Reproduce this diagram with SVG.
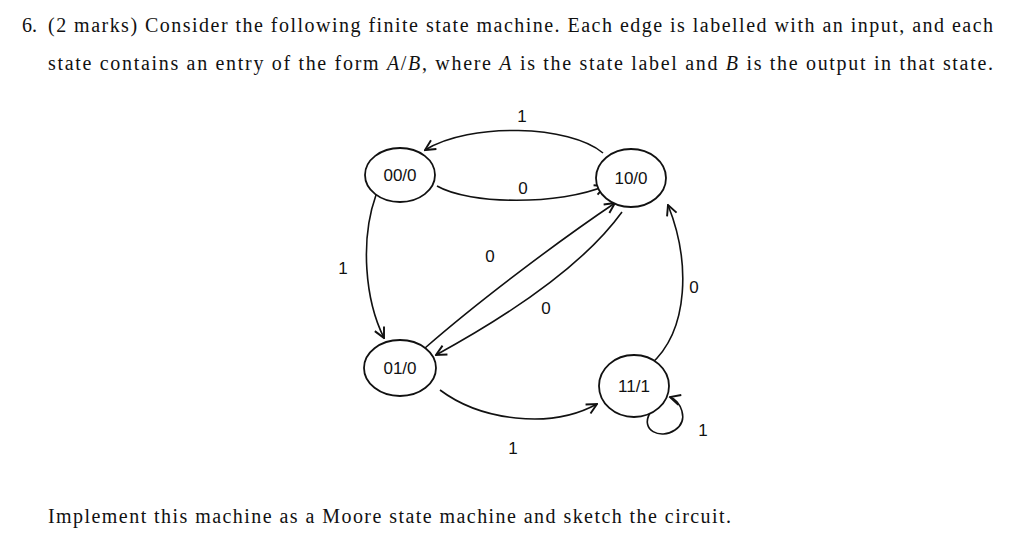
<svg xmlns="http://www.w3.org/2000/svg" width="1018" height="542" viewBox="0 0 1018 542">
<style>
.t{font-family:"Liberation Serif",serif;font-size:20px;fill:#111}
.h{font-family:"Liberation Sans",sans-serif;font-size:17px;fill:#111;text-anchor:middle}
.s{fill:#fff;stroke:#111;stroke-width:1.8}
.e{fill:none;stroke:#111;stroke-width:1.6;marker-end:url(#a)}
</style>
<defs><marker id="a" viewBox="0 0 10 10" refX="9" refY="5" markerWidth="8" markerHeight="8" orient="auto-start-reverse"><path d="M1,1 L9,5 L1,9" fill="none" stroke="#111" stroke-width="1.5"/></marker></defs>
<rect width="1018" height="542" fill="#fff"/>
<text class="t" x="22" y="32">6.</text>
<text class="t" x="48" y="32" textLength="945" lengthAdjust="spacing">(2 marks) Consider the following finite state machine. Each edge is labelled with an input, and each</text>
<text class="t" x="48" y="70" textLength="945" lengthAdjust="spacing">state contains an entry of the form <tspan font-style="italic">A</tspan>/<tspan font-style="italic">B</tspan>, where <tspan font-style="italic">A</tspan> is the state label and <tspan font-style="italic">B</tspan> is the output in that state.</text>
<text class="t" x="48" y="523" textLength="683" lengthAdjust="spacing">Implement this machine as a Moore state machine and sketch the circuit.</text>
<g id="connectors">
<path class="e" d="M603,153 C570,125 470,122 425,150"/>
<path class="e" d="M437,186 C470,205 560,205 605,186"/>
<path class="e" d="M376,195 C360,240 365,300 384,338"/>
<path class="e" d="M425,348 C480,300 560,240 615,203"/>
<path class="e" d="M622,212 C580,270 500,320 436,355"/>
<path class="e" d="M650,365 C690,330 690,260 668,205"/>
<path class="e" d="M440,390 C480,420 550,430 597,404"/>
<path class="e" d="M650,413 C640,430 660,440 675,430 C690,420 680,400 670,397"/>
<text class="h" x="522" y="122">1</text>
<text class="h" x="523" y="194">0</text>
<text class="h" x="343" y="274">1</text>
<text class="h" x="490" y="262">0</text>
<text class="h" x="546" y="314">0</text>
<text class="h" x="694" y="293">0</text>
<text class="h" x="513" y="454">1</text>
<text class="h" x="703" y="436">1</text>
</g>
<g id="s00"><ellipse class="s" cx="400" cy="175" rx="35" ry="27"/><text class="h" x="400" y="181">00/0</text></g>
<g id="s10"><ellipse class="s" cx="631" cy="178" rx="35" ry="29"/><text class="h" x="631" y="184">10/0</text></g>
<g id="s01"><ellipse class="s" cx="400" cy="368" rx="36" ry="28"/><text class="h" x="400" y="374">01/0</text></g>
<g id="s11"><ellipse class="s" cx="634" cy="386" rx="35" ry="31"/><text class="h" x="634" y="392">11/1</text></g>
</svg>
